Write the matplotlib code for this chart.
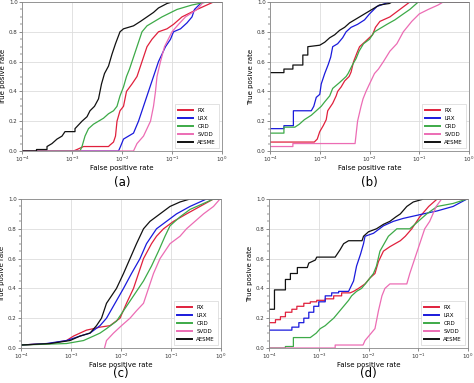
import numpy as np
import matplotlib
matplotlib.use("Agg")
import matplotlib.pyplot as plt
from matplotlib.ticker import LogLocator, MultipleLocator, NullLocator

methods = ["RX", "LRX", "CRD", "SVDD", "AESME"]
colors = {"RX": "#e0203c", "LRX": "#1a1adc", "CRD": "#3daa48", "SVDD": "#ec6cb4", "AESME": "#111111"}
panel_labels = ["(a)", "(b)", "(c)", "(d)"]

# Curves as (log10 FPR, TPR) points
# ---- panel (a) ----
a_RX = [(-4, 0), (-2.97, 0), (-2.9, 0.01), (-2.77, 0.03), (-2.27, 0.03), (-2.24, 0.04), (-2.17, 0.06),
        (-2.13, 0.10), (-2.1, 0.20), (-2.04, 0.27), (-1.97, 0.30), (-1.91, 0.40), (-1.8, 0.45), (-1.7, 0.50),
        (-1.6, 0.60), (-1.5, 0.70), (-1.4, 0.75), (-1.27, 0.80), (-1.1, 0.82), (-0.97, 0.85), (-0.8, 0.90),
        (-0.5, 0.95), (-0.17, 1.0), (0, 1.0)]
a_LRX = [(-4, 0), (-2.07, 0), (-2.03, 0.03), (-1.97, 0.08), (-1.87, 0.10), (-1.77, 0.12), (-1.67, 0.20),
         (-1.57, 0.30), (-1.47, 0.40), (-1.37, 0.50), (-1.27, 0.60), (-1.13, 0.70), (-1.03, 0.75), (-0.97, 0.80),
         (-0.83, 0.82), (-0.7, 0.86), (-0.6, 0.90), (-0.55, 0.95), (-0.4, 1.0), (0, 1.0)]
a_CRD = [(-4, 0), (-2.84, 0), (-2.8, 0.03), (-2.74, 0.10), (-2.67, 0.15), (-2.57, 0.18), (-2.47, 0.20),
         (-2.37, 0.22), (-2.27, 0.25), (-2.17, 0.27), (-2.1, 0.30), (-2.04, 0.37), (-1.97, 0.43), (-1.91, 0.50),
         (-1.85, 0.55), (-1.8, 0.60), (-1.7, 0.70), (-1.6, 0.80), (-1.5, 0.84), (-1.4, 0.86), (-1.2, 0.90),
         (-0.9, 0.95), (-0.6, 0.98), (-0.3, 1.0), (0, 1.0)]
a_SVDD = [(-4, 0), (-1.77, 0), (-1.7, 0.05), (-1.57, 0.10), (-1.43, 0.20), (-1.37, 0.30), (-1.33, 0.40),
          (-1.3, 0.50), (-1.23, 0.60), (-1.15, 0.70), (-1.0, 0.80), (-0.87, 0.85), (-0.73, 0.90), (-0.5, 0.95),
          (-0.37, 1.0), (0, 1.0)]
a_AESME = [(-4, 0), (-3.71, 0), (-3.71, 0.01), (-3.5, 0.01), (-3.5, 0.03), (-3.4, 0.05), (-3.3, 0.08),
           (-3.2, 0.10), (-3.14, 0.13), (-2.94, 0.13), (-2.94, 0.15), (-2.8, 0.20), (-2.7, 0.23), (-2.64, 0.27),
           (-2.55, 0.30), (-2.47, 0.35), (-2.41, 0.45), (-2.35, 0.52), (-2.27, 0.57), (-2.2, 0.65), (-2.13, 0.72),
           (-2.04, 0.80), (-1.97, 0.82), (-1.77, 0.84), (-1.63, 0.87), (-1.5, 0.90), (-1.37, 0.93), (-1.27, 0.96),
           (-1.1, 0.99), (-1.0, 1.0), (0, 1.0)]

# ---- panel (b) ----
b_RX = [(-4, 0.06), (-3.11, 0.06), (-3.05, 0.08), (-3.0, 0.13), (-2.93, 0.17), (-2.87, 0.21), (-2.84, 0.27),
        (-2.74, 0.32), (-2.67, 0.37), (-2.64, 0.40), (-2.57, 0.43), (-2.5, 0.47), (-2.41, 0.50), (-2.37, 0.53),
        (-2.32, 0.60), (-2.25, 0.66), (-2.2, 0.70), (-2.1, 0.73), (-1.94, 0.78), (-1.88, 0.83), (-1.79, 0.87),
        (-1.59, 0.90), (-1.39, 0.95), (-1.19, 1.0), (0, 1.0)]
b_LRX = [(-4, 0.15), (-3.72, 0.15), (-3.72, 0.17), (-3.53, 0.17), (-3.53, 0.27), (-3.17, 0.27), (-3.12, 0.30),
         (-3.07, 0.36), (-3.0, 0.38), (-2.97, 0.45), (-2.9, 0.52), (-2.83, 0.58), (-2.78, 0.63), (-2.74, 0.70),
         (-2.64, 0.72), (-2.54, 0.76), (-2.47, 0.80), (-2.37, 0.83), (-2.24, 0.85), (-2.1, 0.88), (-2.0, 0.92),
         (-1.91, 0.95), (-1.85, 0.97), (-1.6, 1.0), (0, 1.0)]
b_CRD = [(-4, 0.12), (-3.72, 0.12), (-3.72, 0.16), (-3.5, 0.16), (-3.41, 0.18), (-3.31, 0.21), (-3.17, 0.24),
         (-3.07, 0.27), (-2.97, 0.30), (-2.9, 0.33), (-2.8, 0.37), (-2.74, 0.42), (-2.6, 0.46), (-2.47, 0.50),
         (-2.43, 0.52), (-2.34, 0.58), (-2.27, 0.62), (-2.21, 0.67), (-2.12, 0.72), (-2.0, 0.75), (-1.9, 0.80),
         (-1.8, 0.82), (-1.65, 0.85), (-1.49, 0.88), (-1.32, 0.92), (-1.19, 0.95), (-1.02, 1.0), (0, 1.0)]
b_SVDD = [(-4, 0.03), (-3.54, 0.03), (-3.54, 0.05), (-2.29, 0.05), (-2.24, 0.20), (-2.17, 0.30), (-2.13, 0.35),
          (-2.07, 0.40), (-2.0, 0.45), (-1.9, 0.52), (-1.82, 0.55), (-1.72, 0.60), (-1.59, 0.67), (-1.45, 0.72),
          (-1.32, 0.80), (-1.15, 0.87), (-1.0, 0.92), (-0.82, 0.95), (-0.62, 0.98), (-0.52, 1.0), (0, 1.0)]
b_AESME = [(-4, 0.526), (-3.72, 0.526), (-3.72, 0.55), (-3.54, 0.55), (-3.54, 0.577), (-3.34, 0.577),
           (-3.34, 0.644), (-3.24, 0.644), (-3.24, 0.70), (-3.0, 0.71), (-2.9, 0.73), (-2.8, 0.76), (-2.7, 0.78),
           (-2.6, 0.81), (-2.5, 0.83), (-2.4, 0.86), (-2.3, 0.88), (-2.2, 0.90), (-2.1, 0.92), (-2.0, 0.94),
           (-1.9, 0.96), (-1.8, 0.98), (-1.6, 0.99), (-1.55, 1.0), (0, 1.0)]

# ---- panel (c) ----
c_RX = [(-4, 0.02), (-3.42, 0.03), (-3.09, 0.05), (-2.95, 0.08), (-2.69, 0.12), (-2.55, 0.13), (-2.42, 0.14),
        (-2.22, 0.15), (-2.02, 0.20), (-1.89, 0.30), (-1.75, 0.40), (-1.65, 0.50), (-1.55, 0.60), (-1.39, 0.70),
        (-1.29, 0.75), (-1.15, 0.80), (-0.95, 0.85), (-0.69, 0.90), (-0.42, 0.95), (-0.15, 1.0), (0, 1.0)]
c_LRX = [(-4, 0.02), (-3.49, 0.03), (-3.09, 0.05), (-2.82, 0.08), (-2.62, 0.10), (-2.42, 0.15), (-2.29, 0.20),
         (-2.12, 0.30), (-1.95, 0.40), (-1.79, 0.50), (-1.62, 0.60), (-1.49, 0.70), (-1.29, 0.80), (-1.09, 0.85),
         (-0.89, 0.90), (-0.62, 0.95), (-0.29, 1.0), (0, 1.0)]
c_CRD = [(-4, 0.02), (-3.09, 0.03), (-2.75, 0.05), (-2.55, 0.08), (-2.42, 0.10), (-2.29, 0.13), (-2.09, 0.18),
         (-1.95, 0.25), (-1.75, 0.35), (-1.55, 0.45), (-1.39, 0.55), (-1.25, 0.65), (-1.12, 0.75), (-1.02, 0.82),
         (-0.82, 0.88), (-0.62, 0.93), (-0.35, 0.97), (-0.15, 1.0), (0, 1.0)]
c_SVDD = [(-2.33, 0.0), (-2.29, 0.05), (-2.15, 0.10), (-1.99, 0.15), (-1.82, 0.20), (-1.69, 0.25),
          (-1.55, 0.30), (-1.45, 0.40), (-1.35, 0.50), (-1.22, 0.60), (-1.02, 0.70), (-0.82, 0.75), (-0.69, 0.80),
          (-0.52, 0.85), (-0.35, 0.90), (-0.15, 0.95), (-0.02, 1.0), (0, 1.0)]
c_AESME = [(-4, 0.02), (-3.42, 0.03), (-3.02, 0.05), (-2.82, 0.08), (-2.62, 0.10), (-2.49, 0.15), (-2.39, 0.20),
           (-2.29, 0.30), (-2.19, 0.35), (-2.09, 0.40), (-1.95, 0.50), (-1.82, 0.60), (-1.69, 0.70), (-1.55, 0.80),
           (-1.42, 0.85), (-1.22, 0.90), (-1.02, 0.95), (-0.82, 0.98), (-0.62, 1.0), (0, 1.0)]

# ---- panel (d) ----
d_RX = [(-4, 0.17), (-3.87, 0.17), (-3.87, 0.19), (-3.77, 0.19), (-3.77, 0.21), (-3.67, 0.21), (-3.67, 0.24),
        (-3.54, 0.24), (-3.54, 0.26), (-3.44, 0.26), (-3.44, 0.28), (-3.3, 0.28), (-3.3, 0.30), (-3.17, 0.30),
        (-3.17, 0.31), (-3.04, 0.31), (-3.04, 0.32), (-2.87, 0.32), (-2.87, 0.33), (-2.7, 0.33), (-2.7, 0.35),
        (-2.54, 0.35), (-2.54, 0.37), (-2.37, 0.37), (-2.3, 0.38), (-2.2, 0.40), (-2.07, 0.43), (-1.97, 0.47),
        (-1.87, 0.50), (-1.8, 0.58), (-1.7, 0.65), (-1.57, 0.68), (-1.36, 0.72), (-1.26, 0.75), (-1.13, 0.80),
        (-0.97, 0.88), (-0.79, 0.95), (-0.62, 1.0), (0, 1.0)]
d_LRX = [(-4, 0.12), (-3.54, 0.12), (-3.54, 0.14), (-3.4, 0.14), (-3.4, 0.17), (-3.3, 0.17), (-3.3, 0.20),
         (-3.2, 0.20), (-3.2, 0.24), (-3.1, 0.24), (-3.1, 0.28), (-3.0, 0.28), (-3.0, 0.31), (-2.87, 0.31),
         (-2.87, 0.35), (-2.74, 0.35), (-2.74, 0.37), (-2.6, 0.37), (-2.6, 0.38), (-2.4, 0.38), (-2.3, 0.45),
         (-2.24, 0.55), (-2.16, 0.63), (-2.1, 0.70), (-2.07, 0.75), (-1.9, 0.77), (-1.7, 0.82), (-1.5, 0.85),
         (-1.3, 0.87), (-0.9, 0.90), (-0.62, 0.92), (-0.3, 0.95), (-0.02, 1.0), (0, 1.0)]
d_CRD = [(-4, 0), (-3.67, 0), (-3.67, 0.01), (-3.51, 0.01), (-3.51, 0.07), (-3.17, 0.07), (-3.05, 0.10),
         (-2.97, 0.13), (-2.87, 0.15), (-2.77, 0.18), (-2.7, 0.20), (-2.6, 0.24), (-2.5, 0.28), (-2.4, 0.32),
         (-2.34, 0.35), (-2.24, 0.38), (-2.14, 0.40), (-2.04, 0.44), (-1.9, 0.50), (-1.84, 0.55), (-1.77, 0.65),
         (-1.6, 0.75), (-1.43, 0.80), (-1.17, 0.80), (-1.0, 0.85), (-0.83, 0.90), (-0.62, 0.95), (-0.3, 0.97),
         (-0.02, 1.0), (0, 1.0)]
d_SVDD = [(-4, 0), (-2.67, 0), (-2.67, 0.02), (-2.11, 0.02), (-2.07, 0.05), (-1.97, 0.09), (-1.87, 0.13),
          (-1.8, 0.25), (-1.73, 0.35), (-1.67, 0.40), (-1.57, 0.43), (-1.23, 0.43), (-1.17, 0.50), (-1.07, 0.60),
          (-0.97, 0.70), (-0.87, 0.80), (-0.77, 0.85), (-0.64, 0.95), (-0.53, 1.0), (0, 1.0)]
d_AESME = [(-4, 0.26), (-3.89, 0.26), (-3.89, 0.39), (-3.67, 0.39), (-3.67, 0.46), (-3.57, 0.46), (-3.57, 0.50),
           (-3.43, 0.50), (-3.43, 0.54), (-3.23, 0.54), (-3.2, 0.57), (-3.07, 0.59), (-3.04, 0.61), (-2.67, 0.61),
           (-2.63, 0.63), (-2.57, 0.66), (-2.5, 0.70), (-2.4, 0.72), (-2.13, 0.72), (-2.1, 0.75), (-2.0, 0.78),
           (-1.84, 0.80), (-1.7, 0.83), (-1.57, 0.85), (-1.45, 0.88), (-1.36, 0.90), (-1.23, 0.95), (-1.1, 0.98),
           (-0.89, 1.0), (0, 1.0)]

panels = [
    {"RX": a_RX, "LRX": a_LRX, "CRD": a_CRD, "SVDD": a_SVDD, "AESME": a_AESME},
    {"RX": b_RX, "LRX": b_LRX, "CRD": b_CRD, "SVDD": b_SVDD, "AESME": b_AESME},
    {"RX": c_RX, "LRX": c_LRX, "CRD": c_CRD, "SVDD": c_SVDD, "AESME": c_AESME},
    {"RX": d_RX, "LRX": d_LRX, "CRD": d_CRD, "SVDD": d_SVDD, "AESME": d_AESME},
]

fig = plt.figure(figsize=(4.74, 3.83), dpi=100)
W, H = 474.0, 383.0
boxes = [(22, 2, 222, 151), (270, 2, 469, 151), (21, 199, 221, 348), (269, 199, 468, 348)]
label_y = [183, 183, 374, 374]

for i, (panel, box) in enumerate(zip(panels, boxes)):
    l, t, r, b = box
    ax = fig.add_axes([l / W, (H - b) / H, (r - l) / W, (b - t) / H])
    for m in methods:
        pts = np.array(panel[m], dtype=float)
        ax.plot(10.0 ** pts[:, 0], pts[:, 1], color=colors[m], lw=0.9, label=m)
    ax.set_xscale("log")
    ax.set_xlim(1e-4, 1)
    ax.set_ylim(0, 1)
    ax.xaxis.set_major_locator(LogLocator(base=10, numticks=10))
    ax.xaxis.set_minor_locator(NullLocator())
    ax.yaxis.set_major_locator(MultipleLocator(0.2))
    ax.yaxis.set_minor_locator(MultipleLocator(0.05))
    ax.grid(True, which="major", color="#dddddd", lw=0.6)
    ax.set_axisbelow(True)
    ax.tick_params(labelsize=4, colors="#333333", length=2, width=0.4, pad=1.0)
    ax.tick_params(which="minor", length=1.2, width=0.3)
    for s in ax.spines.values():
        s.set_color("#888888")
        s.set_linewidth(0.6)
    ax.set_xlabel("False positive rate", fontsize=5, labelpad=0.2)
    ax.set_ylabel("True posive rate", fontsize=5, labelpad=2)
    leg = ax.legend(loc="lower right", fontsize=4, frameon=True, handlelength=2.6,
                    borderpad=0.6, labelspacing=0.55, fancybox=False, framealpha=1)
    leg.get_frame().set_linewidth(0.4)
    leg.get_frame().set_edgecolor("#cccccc")
    for line in leg.get_lines():
        line.set_linewidth(1.4)
    fig.text((l + r) / 2 / W, (H - label_y[i]) / H, panel_labels[i], fontsize=8.5,
             ha="center", va="center")

fig.savefig("out.png", dpi=100)
